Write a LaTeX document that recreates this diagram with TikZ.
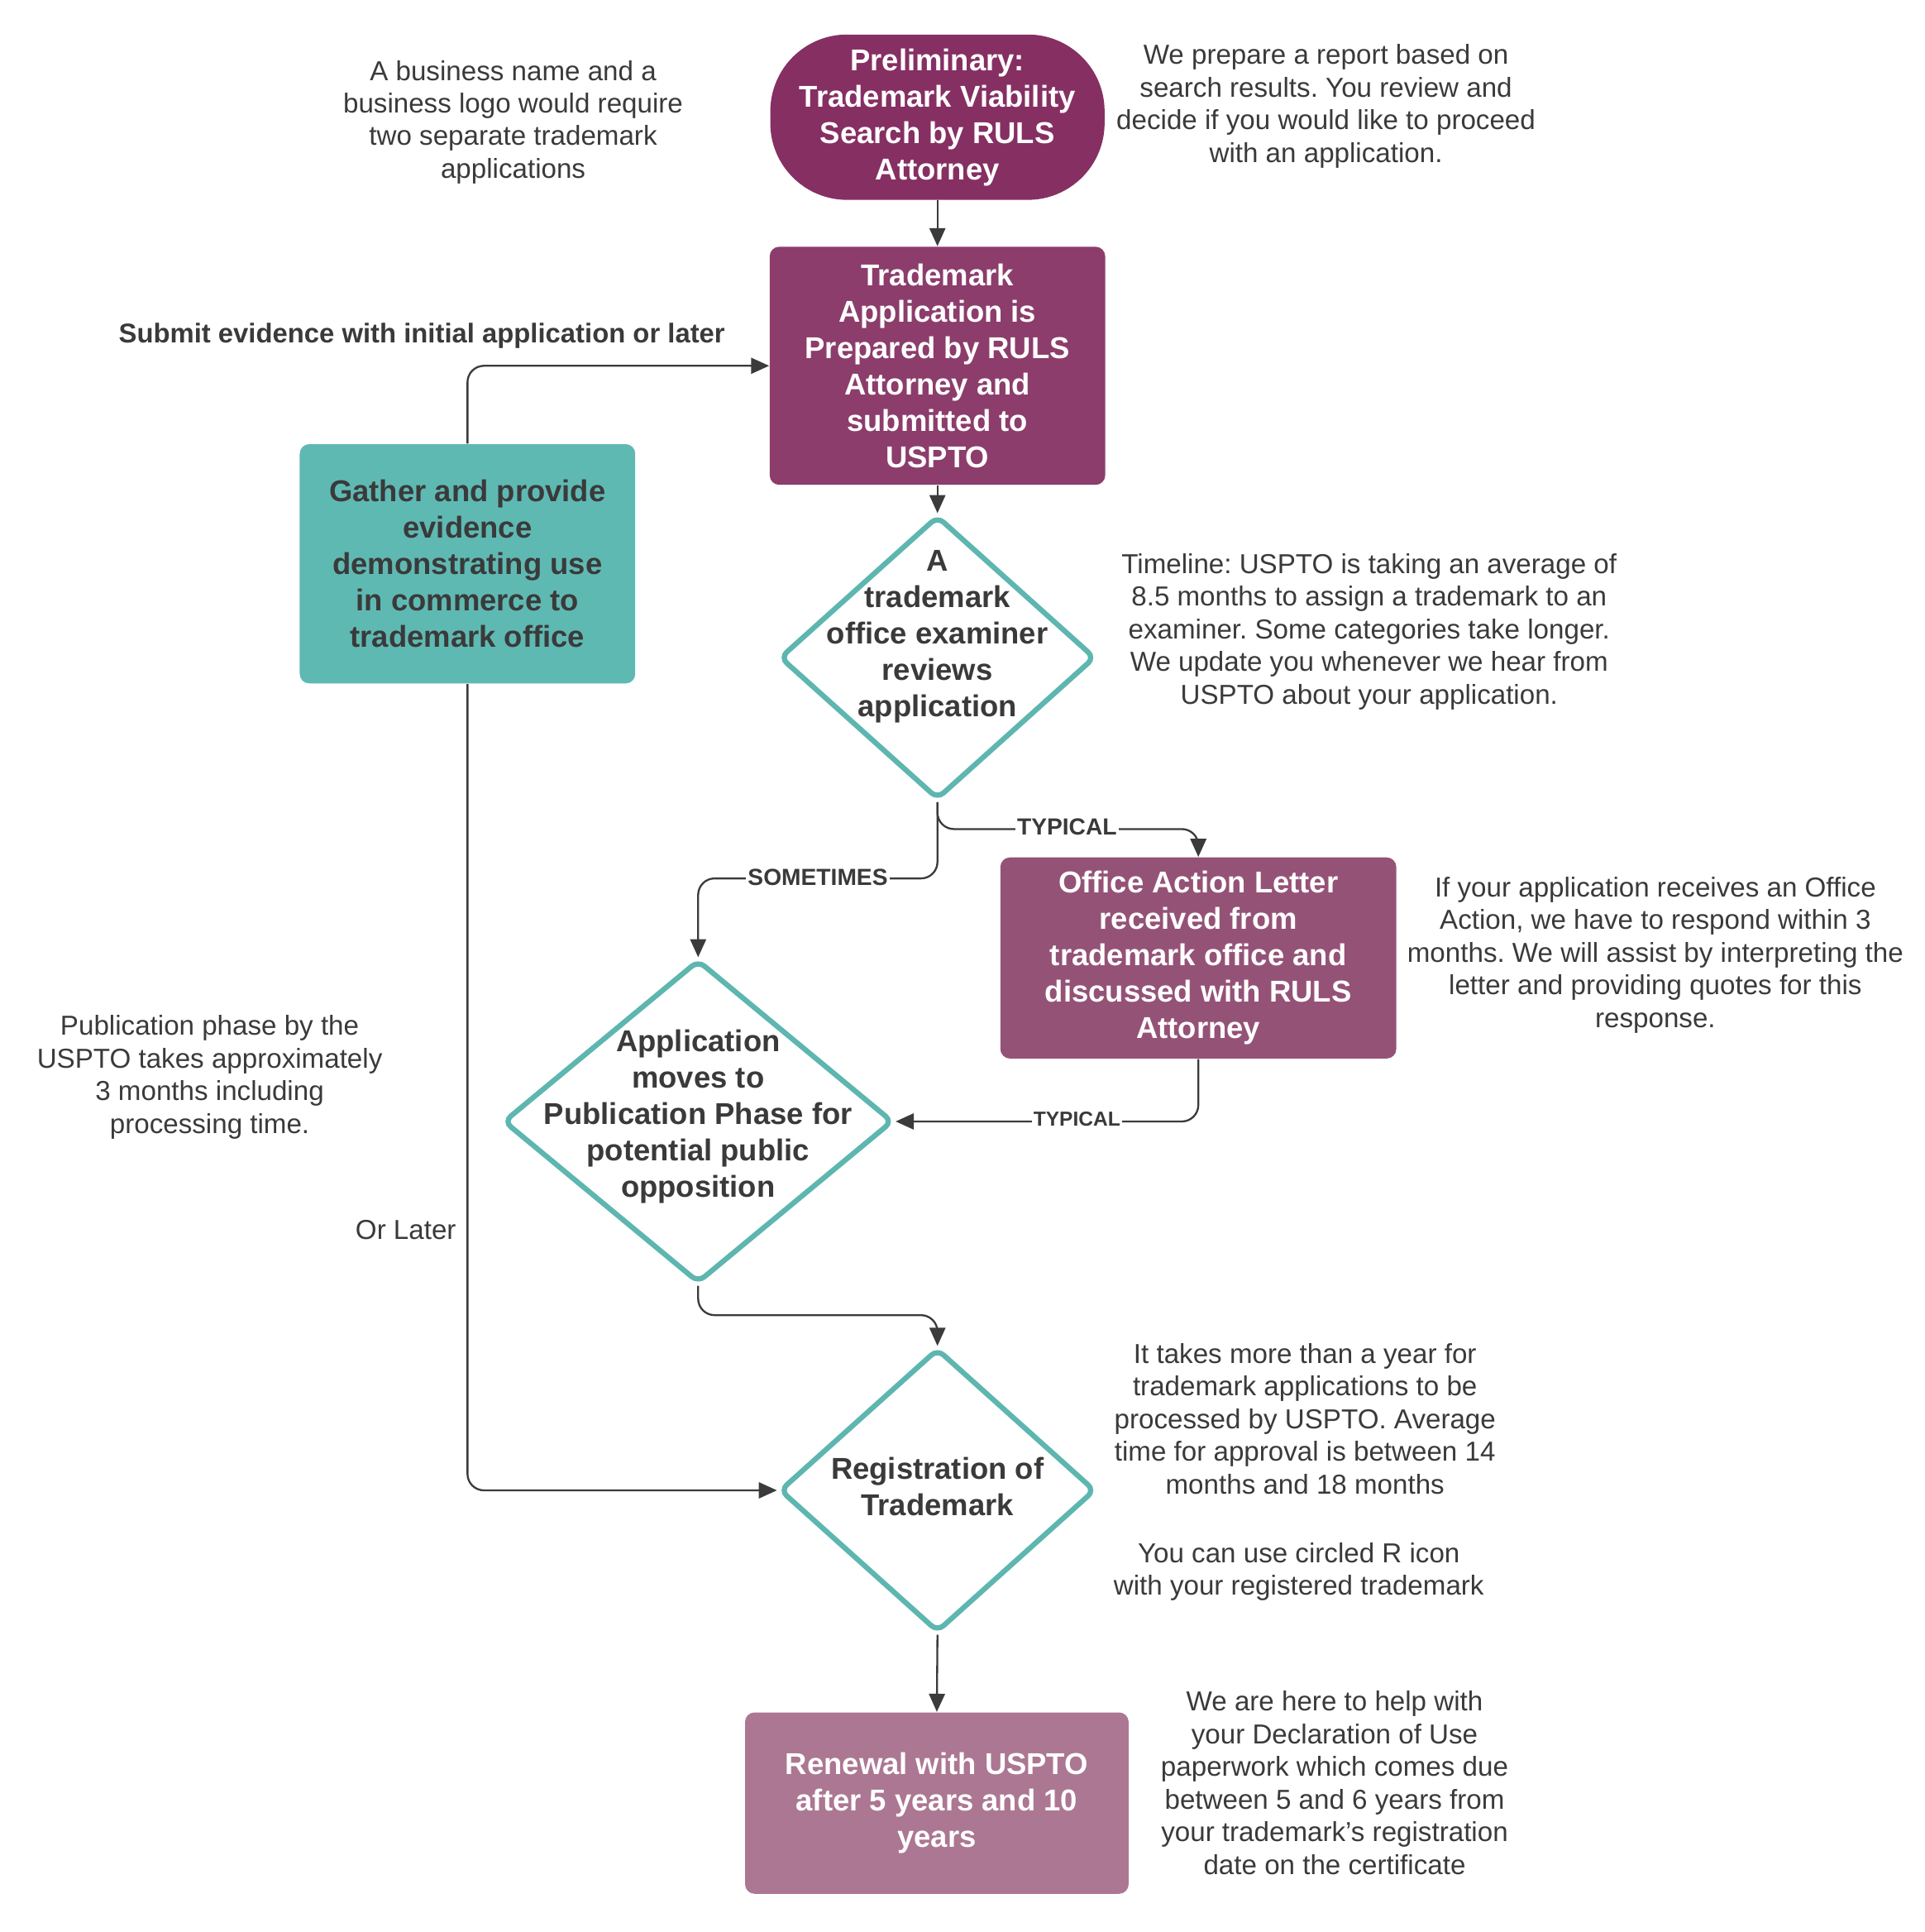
\documentclass[tikz,border=0pt]{standalone}
\usepackage{fontspec}
\setmainfont{Liberation Sans}
\frenchspacing
\usetikzlibrary{shapes.geometric,arrows.meta,calc}
\definecolor{purpA}{HTML}{862F63}
\definecolor{purpB}{HTML}{8C3D6C}
\definecolor{purpC}{HTML}{955277}
\definecolor{mauve}{HTML}{AC7792}
\definecolor{tealF}{HTML}{5FB9B3}
\definecolor{tealB}{HTML}{5DB6AF}
\definecolor{ink}{HTML}{3A3A3A}
\definecolor{lineC}{HTML}{3B3B3B}
\tikzset{
  boxtext/.style={font=\fontsize{11}{13.3}\selectfont\bfseries, align=center},
  pbox/.style={boxtext, draw=none, text=white, rounded corners=3.5pt, inner sep=0pt},
  dia/.style={diamond, draw=tealB, line width=1.9pt, fill=white, rounded corners=3pt, inner sep=0pt},
  diatext/.style={boxtext, text=ink, inner sep=0pt},
  note/.style={font=\fontsize{10}{11.9}\selectfont, text=ink, align=center, inner sep=0pt},
  lbl/.style={font=\fontsize{8.5}{9}\selectfont\bfseries, text=ink, fill=white, inner sep=0.6pt},
  conn/.style={draw=lineC, line width=0.7pt, rounded corners=6pt, -{Triangle[length=6.6pt,width=5.8pt]}},
}
\begin{document}
\begin{tikzpicture}[x=0.45pt,y=-0.45pt]
\useasboundingbox (0,0) rectangle (1560,1566);
% main nodes
\node[pbox, fill=purpA, rounded corners=28pt, minimum width=271*0.45pt, minimum height=134*0.45pt] (st) at (760,95)
  {Preliminary:\\Trademark Viability\\Search by RULS\\Attorney};
\node[pbox, fill=purpB, minimum width=272*0.45pt, minimum height=193*0.45pt] (app) at (760,296.5)
  {Trademark\\Application is\\Prepared by RULS\\Attorney and\\submitted to\\USPTO};
\node[pbox, fill=tealF, text=ink, minimum width=272*0.45pt, minimum height=194*0.45pt] (teal) at (379,457)
  {Gather and provide\\evidence\\demonstrating use\\in commerce to\\trademark office};
\node[dia, minimum width=256*0.45pt, minimum height=230*0.45pt] (d1) at (760,533) {};
\node[diatext] (d1t) at (760,516) {A\\trademark\\office examiner\\reviews\\application};
\node[pbox, fill=purpC, minimum width=321*0.45pt, minimum height=163*0.45pt] (off) at (971.5,776.5)
  {Office Action Letter\\received from\\trademark office and\\discussed with RULS\\Attorney};
\node[dia, minimum width=316*0.45pt, minimum height=262*0.45pt] (d2) at (566,909) {};
\node[diatext] (d2t) at (566,905) {Application\\moves to\\Publication Phase for\\potential public\\opposition};
\node[dia, minimum width=256*0.45pt, minimum height=230*0.45pt] (d3) at (760,1208) {};
\node[diatext] (d3t) at (760,1205) {Registration of\\Trademark};
\node[pbox, fill=mauve, minimum width=311*0.45pt, minimum height=147*0.45pt] (ren) at (759.5,1461.5)
  {Renewal with USPTO\\after 5 years and 10\\years};
% connectors
\coordinate (c1) at (760,672);
\coordinate (c2) at (760,712);
\coordinate (c3) at (566,1066);
\draw[conn] (st.south) -- (app.north);
\draw[conn] (app.south) -- (d1.north);
\draw[conn] (teal.north) |- (app.west);
\draw[conn] (teal.south) |- (d3.west);
\draw[conn] (d1.south) -- (c1) -| (off.north);
\draw[conn] (d1.south) -- (c2) -| (d2.north);
\draw[conn] (off.south) |- (d2.east);
\draw[conn] (d2.south) -- (c3) -| (d3.north);
\draw[conn] (d3.south) -- (ren.north);
% connector labels
\node[lbl] (l1) at (865,670) {TYPICAL};
\node[lbl] (l2) at (663,711) {SOMETIMES};
\node[lbl, font=\fontsize{7.4}{8}\selectfont\bfseries] (l3) at (873,907) {TYPICAL};
\node[font=\fontsize{9.9}{12}\selectfont\bfseries, text=ink, inner sep=0pt] (l4) at (342,272) {Submit evidence with initial application or later};
\node[note] (l5) at (329,997) {Or Later};
% notes
\node[note] (n1) at (416,99) {A business name and a\\business logo would require\\two separate trademark\\applications};
\node[note] (n2) at (1075,86) {We prepare a report based on\\search results. You review and\\decide if you would like to proceed\\with an application.};
\node[note] (n3) at (1110,512) {Timeline: USPTO is taking an average of\\8.5 months to assign a trademark to an\\examiner. Some categories take longer.\\We update you whenever we hear from\\USPTO about your application.};
\node[note] (n4) at (1342,774) {If your application receives an Office\\Action, we have to respond within 3\\months. We will assist by interpreting the\\letter and providing quotes for this\\response.};
\node[note] (n5) at (170,873) {Publication phase by the\\USPTO takes approximately\\3 months including\\processing time.};
\node[note] (n6) at (1058,1150) {It takes more than a year for\\trademark applications to be\\processed by USPTO. Average\\time for approval is between 14\\months and 18 months};
\node[note] (n7) at (1053,1274) {You can use circled R icon\\with your registered trademark};
\node[note] (n8) at (1082,1445) {We are here to help with\\your Declaration of Use\\paperwork which comes due\\between 5 and 6 years from\\your trademark{\char"0027}s registration\\date on the certificate};
\end{tikzpicture}
\end{document}
